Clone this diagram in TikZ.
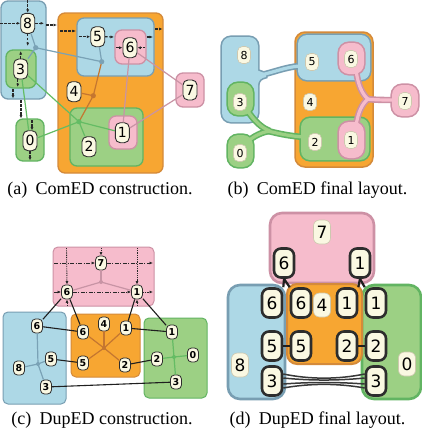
\documentclass[tikz,border=0pt]{standalone}
\usepackage{fontspec}
\setmainfont{Liberation Serif}
\newfontfamily\dv{DejaVu Sans}
\usetikzlibrary{arrows.meta,calc}
\definecolor{blueF}{RGB}{173,216,230}
\definecolor{blueD}{RGB}{120,158,178}
\definecolor{greenF}{RGB}{156,208,132}
\definecolor{greenD}{RGB}{98,180,98}
\definecolor{orangeF}{RGB}{247,166,50}
\definecolor{orangeD}{RGB}{212,138,58}
\definecolor{pinkF}{RGB}{246,188,204}
\definecolor{pinkD}{RGB}{205,145,165}
\definecolor{nfill}{RGB}{250,248,226}
\definecolor{ndark}{RGB}{45,45,45}
\definecolor{nlight}{RGB}{205,200,175}
\definecolor{blueL}{RGB}{122,162,182}
\definecolor{greenL}{RGB}{100,188,100}
\definecolor{orangeL}{RGB}{196,118,48}
\definecolor{pinkL}{RGB}{200,148,165}
\definecolor{arr}{RGB}{40,40,40}
\tikzset{
  an/.style={rectangle, rounded corners=5pt, draw=ndark, line width=0.9pt, fill=nfill,
    minimum width=14pt, minimum height=20pt, inner sep=0pt, font=\dv\fontsize{14}{14}\selectfont},
  bn/.style={rectangle, rounded corners=5pt, draw=nlight, line width=0.6pt, fill=nfill,
    minimum width=13pt, minimum height=17pt, inner sep=0pt, font=\dv\fontsize{11}{11}\selectfont},
  cn/.style={rectangle, rounded corners=4pt, draw=ndark, line width=0.8pt, fill=nfill,
    minimum width=11pt, minimum height=14pt, inner sep=0pt, font=\dv\bfseries\fontsize{9.5}{10}\selectfont},
  dn/.style={rectangle, rounded corners=7pt, draw=ndark, line width=2.6pt, fill=nfill,
    minimum width=20pt, minimum height=29pt, inner sep=0pt, font=\dv\fontsize{17}{17}\selectfont},
  dl/.style={rectangle, rounded corners=6pt, draw=nlight, line width=0.6pt, fill=nfill,
    minimum width=17pt, minimum height=24pt, inner sep=0pt, font=\dv\fontsize{17}{17}\selectfont},
  abox/.style={rounded corners=7pt, line width=1.3pt},
  cbox/.style={rounded corners=5pt, line width=1pt},
  dbox/.style={rounded corners=12pt, line width=2.6pt},
  hl/.style={line width=1.2pt},
  dar/.style={arr, line width=1.1pt, dash pattern=on 2.5pt off 1.5pt, -{Latex[length=3.5pt,width=3pt]}},
  dotar/.style={arr, line width=0.9pt, dash pattern=on 0.9pt off 0.9pt, -{Latex[length=3.5pt,width=3pt]}},
  dashdotar/.style={arr, line width=0.8pt, dash pattern=on 4pt off 1.5pt on 1pt off 1.5pt, -{Latex[length=3.5pt,width=3pt]}},
  blk/.style={draw=black!88, line width=1.1pt},
  thk/.style={draw=black!88, line width=2.2pt},
  captxt/.style={font=\fontsize{18}{19}\selectfont, anchor=base, inner sep=0pt}
}
\begin{document}
\begin{tikzpicture}[x=1pt,y=-1pt]
\path[use as bounding box] (0,0) rectangle (422,429);
\fill[white] (0,0) rectangle (422,429);

% ================= (a) =================
\draw[abox, fill=blueF, draw=blueD] (1,1) rectangle (46,99);
\draw[abox, fill=greenF, draw=greenD] (6,50) rectangle (36,88);
\draw[abox, fill=greenF, draw=greenD] (16,119) rectangle (44,161);
\draw[abox, fill=orangeF, draw=orangeD] (58,13) rectangle (163,173);
\draw[abox, fill=blueF, draw=blueD] (77,18) rectangle (154,76);
\draw[abox, fill=pinkF, draw=pinkD] (115,30) rectangle (146,64);
\draw[abox, fill=greenF, draw=greenD] (70,108) rectangle (143,166);
\draw[abox, fill=pinkF, draw=pinkD] (109,116) rectangle (137,149);
\draw[abox, fill=pinkF, draw=pinkD] (176,73) rectangle (204,107);

\node[an] (a8) at (27.7,23.3) {8};
\node[an] (a3) at (20.7,69) {3};
\node[an] (a0) at (30,140.7) {0};
\node[an] (a5) at (97.7,36.7) {5};
\node[an] (a6) at (130,47.7) {6};
\node[an] (a4) at (74,91.7) {4};
\node[an] (a7) at (190,90) {7};
\node[an] (a1) at (122.3,132.7) {1};
\node[an] (a2) at (89,146.7) {2};

\coordinate (ha1) at (35.7,47.7);
\coordinate (ha2) at (101.7,61.7);
\coordinate (hao) at (93.3,95.7);
\coordinate (hag) at (79,121.7);

\draw[hl, blueL] (a8) -- (ha1) -- (ha2) -- (a5);
\draw[hl, blueL] (a3) -- (ha1);
\draw[hl, orangeL] (ha2) -- (hao) -- (hag);
\draw[hl, orangeL] (hao) -- (a4);
\draw[hl, greenL] (hag) -- (a3);
\draw[hl, greenL] (hag) -- (a0);
\draw[hl, greenL] (hag) -- (a2);
\draw[hl, greenL] (hag) -- (a1);
\draw[hl, greenL] (a3) -- (a0);
\draw[hl, pinkL] (a6) -- (a1);
\draw[hl, pinkL] (a6) -- (a7);
\draw[hl, pinkL] (a1) -- (a7);
\fill[blueL] (ha1) circle (2.6pt);
\fill[blueL] (ha2) circle (2.6pt);
\fill[orangeL] (hao) circle (2.6pt);
\fill[greenL] (hag) circle (2.6pt);

\draw[dar] (27.7,0) -- (a8.north);
\draw[dar] (0,23.3) -- (a8.west);
\draw[dar] (a8.east) -- (44,23.3);
\draw[dar] (46,25) -- (57,25);
\draw[dar] (60,31) -- (76,31);
\draw[dar] (79,36.7) -- (a5.west);
\draw[dar] (a5.east) -- (114,37);
\draw[dar] (116,47.7) -- (a6.west);
\draw[dar] (145,47.7) -- (a6.east);
\draw[dar] (147,37) -- (153,37);
\draw[dar] (155,29) -- (162.5,29);
\draw[dar] (a8.south) -- (27.7,46);
\draw[dar] (a3.north) -- (20.7,51);
\draw[dar] (17.7,79) -- (17.7,87);
\draw[dar] (13,89) -- (13,98.5);
\draw[dar, line width=1.5pt] (21,100) -- (21,118.5);
\draw[dar] (32,120) -- (32,130.5);
\draw[dar] (a0.south) -- (30,160.5);

\node[captxt] (capa) at (100,194) {(a)\hspace{0.45em}ComED construction.};

% ================= (b) =================
\draw[orangeD, fill=orangeF, line width=1.5pt, rounded corners=10pt] (295,32) rectangle (373,167);
% blue union
\draw[blueD, fill=blueD, line width=3.2pt, rounded corners=9pt] (222,37) rectangle (258,122);
\draw[blueD, fill=blueD, line width=3.2pt, rounded corners=9pt] (298,35) rectangle (370,80);
\draw[blueD, fill=blueD, line width=3.2pt] (256,70) -- (266,73.5) -- (266,77) .. controls (261,78) and (259,80) .. (258,84) -- cycle;
\draw[blueD, line width=6.4pt] (255,76) .. controls (270,74) and (284,67) .. (300,66);
\fill[blueF, rounded corners=9pt] (222,37) rectangle (258,122);
\fill[blueF, rounded corners=9pt] (298,35) rectangle (370,80);
\fill[blueF] (256,70) -- (266,73.5) -- (266,77) .. controls (261,78) and (259,80) .. (258,84) -- cycle;
\draw[blueF, line width=3.2pt] (255,76) .. controls (270,74) and (284,67) .. (300,66);
% green union
\draw[greenD, fill=greenD, line width=3.2pt, rounded corners=10pt] (228,83) rectangle (253,115);
\draw[greenD, fill=greenD, line width=3.2pt, rounded corners=10pt] (228,135) rectangle (253,167);
\draw[greenD, fill=greenD, line width=3.2pt, rounded corners=9pt] (301,118) rectangle (369,160);
\draw[greenD, line width=6.4pt] (247,110) .. controls (255,122) and (262,128) .. (270,131);
\draw[greenD, line width=6.4pt] (247,142) .. controls (254,136) and (262,132) .. (270,131);
\draw[greenD, line width=6.4pt] (268,131) .. controls (280,134) and (290,136) .. (303,137);
\fill[greenF, rounded corners=10pt] (228,83) rectangle (253,115);
\fill[greenF, rounded corners=10pt] (228,135) rectangle (253,167);
\fill[greenF, rounded corners=9pt] (301,118) rectangle (369,160);
\draw[greenF, line width=3.2pt] (247,110) .. controls (255,122) and (262,128) .. (270,131);
\draw[greenF, line width=3.2pt] (247,142) .. controls (254,136) and (262,132) .. (270,131);
\draw[greenF, line width=3.2pt] (268,131) .. controls (280,134) and (290,136) .. (303,137);
% pink union
\draw[pinkD, fill=pinkD, line width=3.2pt, rounded corners=10pt] (339,43) rectangle (364,74);
\draw[pinkD, fill=pinkD, line width=3.2pt, rounded corners=10pt] (339,122) rectangle (364,158);
\draw[pinkD, fill=pinkD, line width=3.2pt, rounded corners=10pt] (392,85) rectangle (418,116);
\draw[pinkD, line width=6.4pt] (356,70) .. controls (358,85) and (362,94) .. (368,99);
\draw[pinkD, line width=6.4pt] (356,126) .. controls (358,112) and (362,104) .. (368,99);
\draw[pinkD, line width=6.4pt] (366,99) .. controls (376,100) and (385,100) .. (395,100);
\fill[pinkF, rounded corners=10pt] (339,43) rectangle (364,74);
\fill[pinkF, rounded corners=10pt] (339,122) rectangle (364,158);
\fill[pinkF, rounded corners=10pt] (392,85) rectangle (418,116);
\draw[pinkF, line width=3.2pt] (356,70) .. controls (358,85) and (362,94) .. (368,99);
\draw[pinkF, line width=3.2pt] (356,126) .. controls (358,112) and (362,104) .. (368,99);
\draw[pinkF, line width=3.2pt] (366,99) .. controls (376,100) and (385,100) .. (395,100);

\node[bn] (b8) at (244,55) {8};
\node[bn] (b3) at (240,102) {3};
\node[bn] (b0) at (240,153) {0};
\node[bn] (b5) at (312,62) {5};
\node[bn] (b6) at (351,59) {6};
\node[bn] (b4) at (310,102) {4};
\node[bn] (b7) at (405,101) {7};
\node[bn] (b2) at (315,142) {2};
\node[bn] (b1) at (351,140) {1};

\node[captxt] (capb) at (317.5,194) {(b)\hspace{0.45em}ComED final layout.};

% ================= (c) =================
\draw[cbox, fill=pinkF, draw=pinkD] (53,247) rectangle (154,306);
\draw[cbox, fill=blueF, draw=blueD] (3,312) rectangle (66,404);
\draw[cbox, fill=orangeF, draw=orangeD] (71,314) rectangle (140,377);
\draw[cbox, fill=greenF, draw=greenD] (144,318) rectangle (207,398);

\node[cn] (c7) at (101,263) {7};
\node[cn] (c6t) at (67,292) {6};
\node[cn] (c1t) at (137,292) {1};
\node[cn] (c6b) at (37,326) {6};
\node[cn] (c5b) at (51,359) {5};
\node[cn] (c8) at (19,368) {8};
\node[cn] (c3b) at (46,387) {3};
\node[cn] (c6o) at (83,332) {6};
\node[cn] (c4) at (104,324) {4};
\node[cn] (c1o) at (126,328) {1};
\node[cn] (c5o) at (83,363) {5};
\node[cn] (c2o) at (125,365) {2};
\node[cn] (c1g) at (172,332) {1};
\node[cn] (c2g) at (157,359) {2};
\node[cn] (c0) at (193,355) {0};
\node[cn] (c3g) at (176,382) {3};

\coordinate (hcp) at (101,282);
\coordinate (hcb) at (38,364);
\coordinate (hco) at (104,348);
\coordinate (hcg) at (174,357);

\draw[hl, pinkL] (c7) -- (hcp); \draw[hl, pinkL] (c6t) -- (hcp); \draw[hl, pinkL] (c1t) -- (hcp);
\draw[hl, blueL] (c6b) -- (hcb); \draw[hl, blueL] (c5b) -- (hcb); \draw[hl, blueL] (c8) -- (hcb); \draw[hl, blueL] (c3b) -- (hcb);
\draw[hl, orangeL] (c6o) -- (hco); \draw[hl, orangeL] (c4) -- (hco); \draw[hl, orangeL] (c1o) -- (hco); \draw[hl, orangeL] (c5o) -- (hco); \draw[hl, orangeL] (c2o) -- (hco);
\draw[hl, greenL] (c1g) -- (hcg); \draw[hl, greenL] (c2g) -- (hcg); \draw[hl, greenL] (c0) -- (hcg); \draw[hl, greenL] (c3g) -- (hcg);
\fill[pinkL] (hcp) circle (2pt);
\fill[blueL] (hcb) circle (2pt);
\fill[orangeL] (hco) circle (2pt);
\fill[greenL] (hcg) circle (2pt);

\draw[blk] (c6t) -- (c6b);
\draw[blk] (c6t) -- (c6o);
\draw[blk] (c1t) -- (c1o);
\draw[blk] (c1t) -- (c1g);
\draw[blk] (c6b) -- (c6o);
\draw[blk] (c1o) -- (c1g);
\draw[blk] (c5b) -- (c5o);
\draw[blk] (c2o) -- (c2g);
\draw[blk] (c3b) -- (c3g);

\draw[dotar] (66.5,248) -- (c6t.north);
\draw[dotar] (137,248) -- (c1t.north);
\draw[dotar] (101,248) -- (c7.north);
\draw[dashdotar] (54,263) -- (c7.west);
\draw[dashdotar] (c7.east) -- (153,263);
\draw[dashdotar] (54,292) -- (c6t.west);
\draw[dashdotar] (c6t.east) -- (c1t.west);
\draw[dotar] (c1t.east) -- (153,292);
\draw[dotar] (67,306) -- (c6t.south);
\draw[dotar] (137,306) -- (c1t.south);

\node[captxt] (capc) at (102,424.5) {(c)\hspace{0.45em}DupED construction.};

% ================= (d) =================
\draw[dbox, fill=pinkF, draw=pinkD] (270,213) rectangle (374,283);
\draw[dbox, fill=blueF, draw=blueD] (228,285) rectangle (285,399);
\draw[dbox, fill=greenF, draw=greenD] (362,285) rectangle (421,399);
\draw[orangeD, fill=orangeF, line width=2pt, rounded corners=10pt] (287,284) rectangle (362,364);

\node[dl] (d7) at (322,232) {7};
\node[dn] (d6t) at (284,263) {6};
\node[dn] (d1t) at (360,263) {1};
\node[dn] (d6b) at (272,303) {6};
\node[dn] (d6o) at (301,303) {6};
\node[dl] (d4) at (322,305) {4};
\node[dn] (d1o) at (347,303) {1};
\node[dn] (d1g) at (376,303) {1};
\node[dn] (d5b) at (272,346) {5};
\node[dn] (d5o) at (301,346) {5};
\node[dn] (d2o) at (347,346) {2};
\node[dn] (d2g) at (376,346) {2};
\node[dn] (d3l) at (272,381) {3};
\node[dn] (d3r) at (376,381) {3};
\node[dl] (d8) at (240,365) {8};
\node[dl] (d0) at (407,364) {0};

\draw[thk] (d6t.south) -- (d6b.north east);
\draw[thk] (d6t.south) -- (d6o.north west);
\draw[thk] (d1t.south) -- (d1o.north east);
\draw[thk] (d1t.south) -- (d1g.north west);
\draw[thk] (d5b) -- (d5o);
\draw[thk] (d2o) -- (d2g);
\foreach \ya/\yb in {374/379.5, 378/380.7, 384/382, 388/383.2}{
  \draw[black!78, line width=1.5pt] ($(d3l.east)+(0,\ya-381)$) .. controls (310,\yb) and (338,\yb) .. ($(d3r.west)+(0,\ya-381)$);
}

\node[captxt] (capd) at (317.5,424.5) {(d)\hspace{0.45em}DupED final layout.};
\end{tikzpicture}
\end{document}
